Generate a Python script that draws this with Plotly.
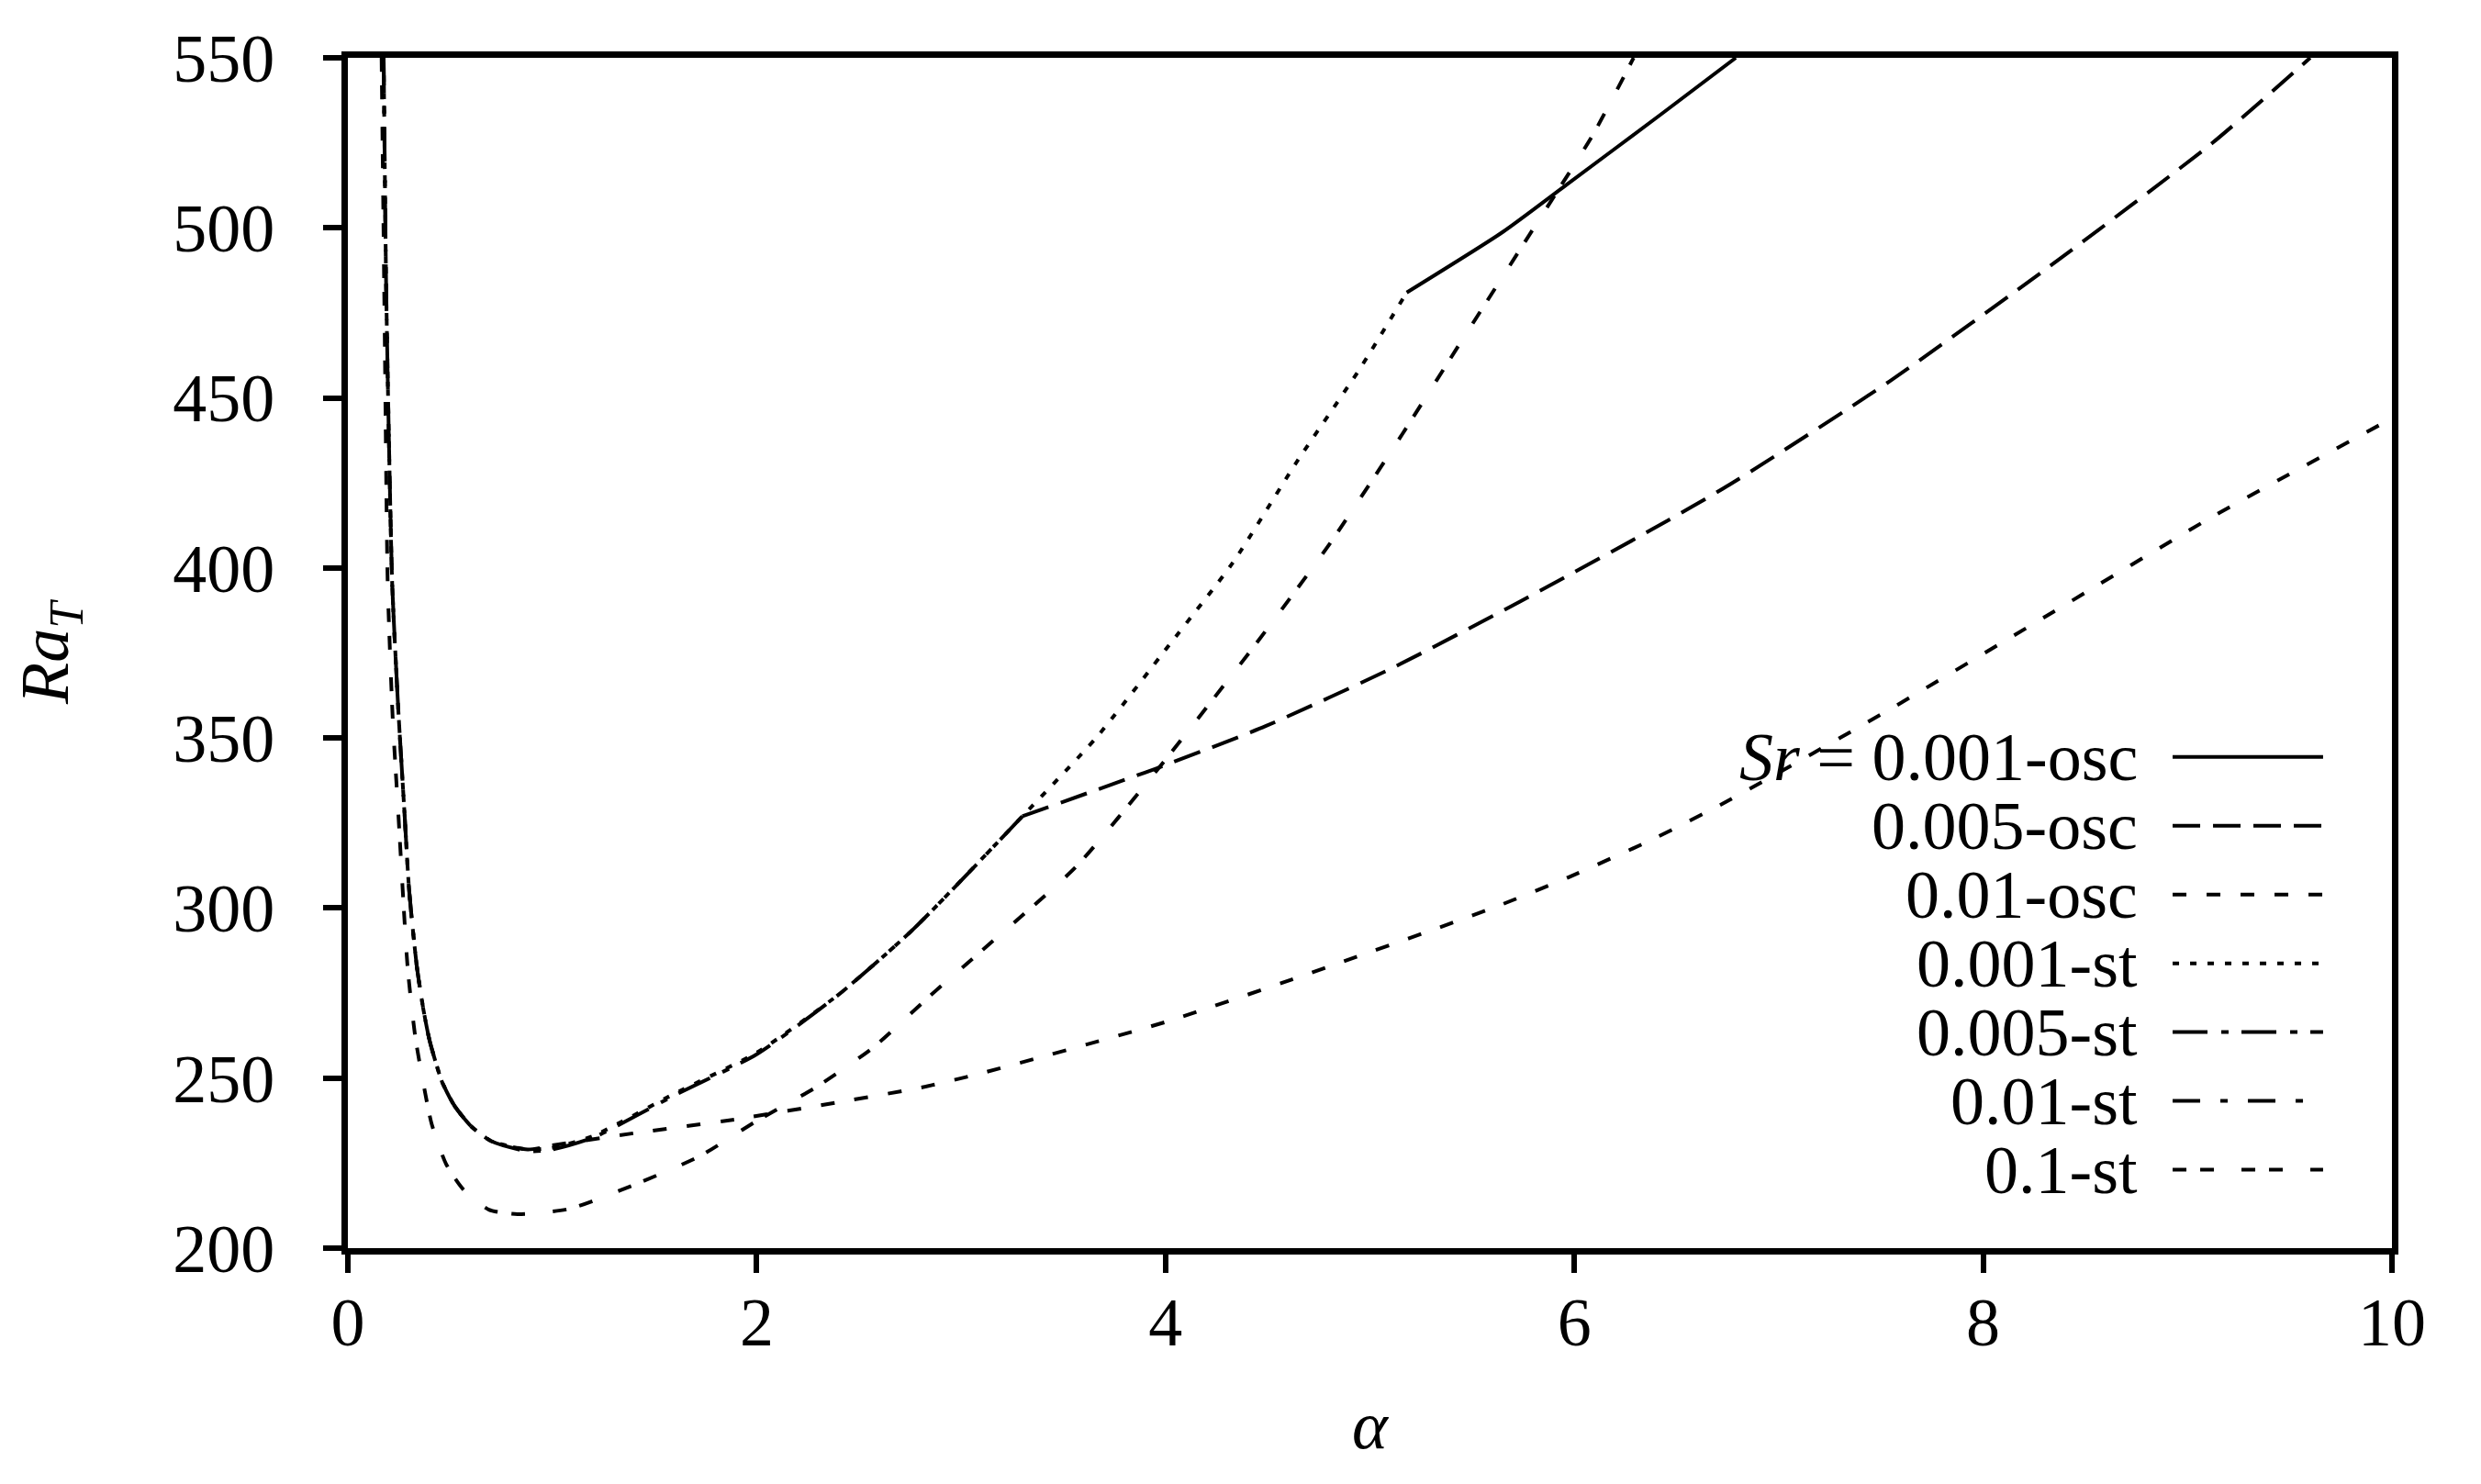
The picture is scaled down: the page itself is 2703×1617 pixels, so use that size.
import plotly.graph_objects as go

# critical Rayleigh number Ra_T versus wave number alpha
st001_alpha = [0.175, 0.187, 0.20, 0.217, 0.247, 0.277, 0.30, 0.337, 0.37, 0.40, 0.46, 0.52, 0.60, 0.70,
               0.88, 1.00, 1.20, 1.60, 2.00, 2.41, 2.77, 3.30, 3.66, 4.02, 4.33, 4.64, 4.95, 5.18]
st001_ra = [550, 484, 440, 395, 358, 328, 305, 283, 270, 261, 249, 242, 236, 231.5,
            229, 229.5, 233, 245.5, 257.5, 275, 294, 327, 350, 377.5, 401.6, 431, 458.5, 481]

st005_alpha = [0.175, 0.187, 0.20, 0.217, 0.247, 0.277, 0.30, 0.337, 0.37, 0.40, 0.46, 0.52, 0.60, 0.70,
               0.88, 1.00, 1.20, 1.60, 2.00, 2.41, 2.77, 3.30]
st005_ra = [550, 484, 440, 395, 358, 328, 305, 283, 270, 261, 249, 242, 236, 231.5,
            228.5, 229, 232.5, 245, 257, 275, 294, 327]

st01_alpha = [0.175, 0.187, 0.20, 0.217, 0.247, 0.277, 0.30, 0.337, 0.37, 0.40, 0.46, 0.52, 0.60, 0.70,
              0.88, 1.00]
st01_ra = [550, 484, 440, 395, 358, 328, 305, 283, 270, 261, 249, 242, 236, 231.5,
           229, 230.2]

st1_alpha = [0.165, 0.18, 0.195, 0.22, 0.247, 0.292, 0.33, 0.38, 0.41, 0.48, 0.56, 0.69, 0.83, 1.08, 1.40,
             1.72, 2.00, 2.29, 2.57, 2.85, 3.09, 3.56, 3.97, 4.44, 4.80, 5.16, 5.47, 5.80, 6.09, 6.29]
st1_ra = [550, 470, 395, 355, 327.6, 282.8, 262, 245, 236.5, 224.8, 217.6, 211.3, 210, 211.5, 218.6,
          227, 237.4, 247.3, 259, 274.3, 286.9, 312, 341.4, 377.5, 406.8, 439.5, 468.8, 499.8, 527.3, 550]

osc001_alpha = [5.18, 5.65, 5.96, 6.42, 6.79]
osc001_ra = [481, 498.8, 512.6, 533.2, 550]

osc005_alpha = [3.30, 3.97, 4.49, 5.11, 5.73, 6.37, 6.76, 7.54, 8.33, 9.12, 9.60]
osc005_ra = [327, 341.4, 353.5, 370.6, 390, 411, 424.5, 454.8, 488.9, 524.9, 550]

osc01_alpha = [1.00, 1.40, 1.90, 2.41, 2.81, 3.09, 4.00, 4.80, 5.60, 5.97, 6.40, 6.76, 7.54, 8.33, 9.12, 10.0]
osc01_ra = [230.2, 233.8, 237.9, 243, 247.3, 251.3, 266.5, 282.8, 300, 309, 320.7, 331.8, 358.3, 386.6, 415, 444]

legend_labels = ["<i>Sr</i> = 0.001-osc", "0.005-osc", "0.01-osc", "0.001-st", "0.005-st", "0.01-st", "0.1-st"]
x_ticks = [0, 2, 4, 6, 8, 10]
y_ticks = [200, 250, 300, 350, 400, 450, 500, 550]

FONT = "Liberation Serif"
FS = 74
LW = 4

series = [
    (osc001_alpha, osc001_ra, "solid"),
    (osc005_alpha, osc005_ra, "30px,14px"),
    (osc01_alpha, osc01_ra, "15px,22px"),
    (st001_alpha, st001_ra, "7px,12px"),
    (st005_alpha, st005_ra, "38px,15px,8px,14px"),
    (st01_alpha, st01_ra, "30px,22px,8px,22px"),
    (st1_alpha, st1_ra, "15px,15px,15px,30px"),
]

fig = go.Figure()
for (xs, ys, dash), name in zip(series, legend_labels):
    fig.add_trace(go.Scatter(x=xs, y=ys, mode="lines", name=name, showlegend=False,
                             line=dict(color="black", width=LW, dash=dash, shape="spline", smoothing=0.6)))

# legend drawn by hand: text on the left, line sample on the right
row0 = 0.4127
row_step = 0.0578
for i, ((xs, ys, dash), name) in enumerate(zip(series, legend_labels)):
    yy = row0 - i * row_step
    fig.add_annotation(x=0.8765, y=yy, xref="paper", yref="paper", text=name, showarrow=False,
                       xanchor="right", yanchor="middle", height=72, valign="middle",
                       font=dict(family=FONT, size=FS, color="black"))
    fig.add_shape(type="line", xref="paper", yref="paper", x0=0.8927, x1=0.9663, y0=yy, y1=yy,
                  line=dict(color="black", width=LW, dash=dash))

axis_common = dict(showline=True, linecolor="black", linewidth=7, mirror=True, showgrid=False, zeroline=False,
                   ticks="outside", ticklen=20, tickwidth=6, tickcolor="black",
                   tickfont=dict(family=FONT, size=FS, color="black"))

fig.update_xaxes(range=[0, 10], tickvals=x_ticks, ticklabelstandoff=-10,
                 title=dict(text="<i>α</i>", font=dict(family=FONT, size=FS, color="black"), standoff=48),
                 **axis_common)
fig.update_yaxes(range=[200, 550], tickvals=y_ticks, ticklabelstandoff=38,
                 title=dict(text="<i>Ra</i><sub><i>T</i></sub>", font=dict(family=FONT, size=FS, color="black"),
                            standoff=109),
                 **axis_common)

fig.update_layout(width=2703, height=1617, paper_bgcolor="white", plot_bgcolor="white",
                  margin=dict(l=371, r=105, t=55, b=265), showlegend=False)

fig.write_html("out.html")
